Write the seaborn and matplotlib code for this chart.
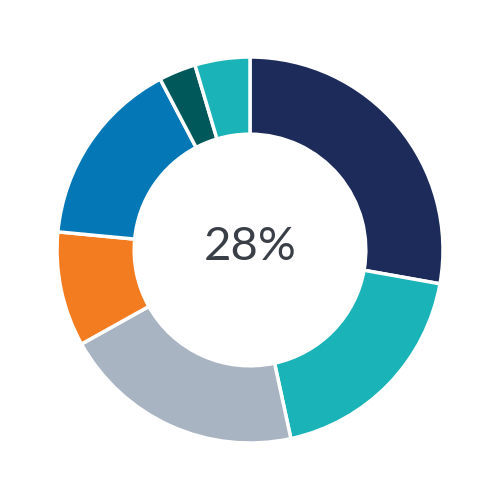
import matplotlib
matplotlib.use('Agg')
import matplotlib.pyplot as plt
import seaborn as sns

shares = [27.8, 18.8, 20.3, 9.6, 15.8, 3.1, 4.6]
slice_colors = ['#1c2b5a', '#1ab4b8', '#a9b4c2', '#f47c20', '#0477b7', '#01585a', '#1ab4b8']
center_label = '28%'

sns.set_theme(style='white')
plt.rcParams['font.family'] = ['Lato', 'DejaVu Sans']

fig = plt.figure(figsize=(5, 5), dpi=100)
ax = fig.add_axes([0, 0, 1, 1])
ax.pie(shares, colors=slice_colors, startangle=90, counterclock=False,
       radius=1.0, wedgeprops=dict(width=0.4, edgecolor='white', linewidth=2.5))
ax.text(0, 0.015, center_label, ha='center', va='center', fontsize=34, color='#3a3f47')
lim = 250 / 193
ax.set_xlim(-lim, lim)
ax.set_ylim(-lim, lim)
ax.set_aspect('equal')
ax.axis('off')

fig.savefig('out.png', dpi=100, facecolor='white')
plt.close(fig)
